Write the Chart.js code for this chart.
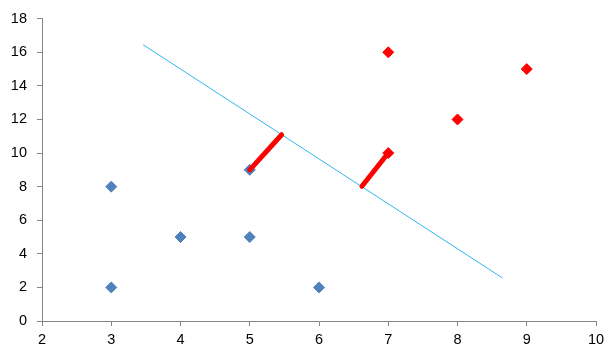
<!DOCTYPE html>
<html><head><meta charset="utf-8">
<script src="https://cdn.jsdelivr.net/npm/chart.js@4"></script>
<style>html,body{margin:0;padding:0;background:#fff}#wrap{width:615px;height:356px}</style>
</head><body><div id="wrap"><canvas id="c" width="615" height="356"></canvas></div>
<script>
const blueX = [3, 3, 4, 5, 5, 6];
const blueY = [8, 2, 5, 9, 5, 2];
const redX = [7, 7, 8, 9];
const redY = [16, 10, 12, 15];
const lineX = [3.46, 8.65];
const lineY = [16.45, 2.56];
const seg1X = [5, 5.46];
const seg1Y = [9, 11.09];
const seg2X = [6.62, 7];
const seg2Y = [8.02, 10];
const xTicks = [2, 3, 4, 5, 6, 7, 8, 9, 10];
const yTicks = [0, 2, 4, 6, 8, 10, 12, 14, 16, 18];

const pts = (xs, ys) => xs.map((x, i) => ({x, y: ys[i]}));
const axisColor = '#868686';
const font = {family: "'Liberation Sans', Arial, sans-serif", size: 14.5};

new Chart(document.getElementById('c'), {
  type: 'scatter',
  data: {
    datasets: [
      {data: pts(lineX, lineY), showLine: true, borderColor: '#2FB8EE', borderWidth: 1, pointRadius: 0, order: 3},
      {data: pts(blueX, blueY), pointStyle: 'rectRot', pointRadius: 5.5, backgroundColor: '#4F81BD', borderColor: '#4F81BD', borderWidth: 1, order: 2},
      {data: pts(redX, redY), pointStyle: 'rectRot', pointRadius: 5.5, backgroundColor: '#FF0000', borderColor: '#FF0000', borderWidth: 1, order: 2},
      {data: pts(seg1X, seg1Y), showLine: true, borderColor: '#FF0000', borderWidth: 5, borderCapStyle: 'round', pointRadius: 0, order: 1},
      {data: pts(seg2X, seg2Y), showLine: true, borderColor: '#FF0000', borderWidth: 5, borderCapStyle: 'round', pointRadius: 0, order: 1}
    ]
  },
  options: {
    responsive: false,
    animation: false,
    layout: {padding: {left: 0, right: 19, top: 16, bottom: 0}},
    plugins: {legend: {display: false}, tooltip: {enabled: false}},
    scales: {
      x: {
        type: 'linear', min: 2, max: 10,
        afterBuildTicks: s => { s.ticks = xTicks.map(v => ({value: v})); },
        afterFit: s => { s.height = 35; },
        grid: {drawOnChartArea: false, color: axisColor, tickLength: 5},
        border: {color: axisColor},
        ticks: {color: '#000', font, padding: 5, maxRotation: 0}
      },
      y: {
        type: 'linear', min: 0, max: 18,
        afterBuildTicks: s => { s.ticks = yTicks.map(v => ({value: v})); },
        afterFit: s => { s.width = 42; },
        grid: {drawOnChartArea: false, color: axisColor, tickLength: 5},
        border: {color: axisColor},
        ticks: {color: '#000', font, padding: 10}
      }
    }
  }
});
</script></body></html>
